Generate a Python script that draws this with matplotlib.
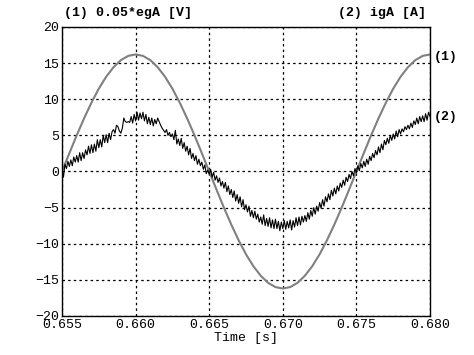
import numpy as np
import matplotlib
matplotlib.use('Agg')
import matplotlib.pyplot as plt

# time axis for the two traces
t_start = 0.655
t_end = 0.680

# (1) 0.05*egA [V], sampled every 0.5 ms
volt = [0.0, 2.53, 5.01, 7.35, 9.52, 11.46, 13.11, 14.43, 15.41, 16.00, 16.2,
        16.00, 15.41, 14.43, 13.11, 11.46, 9.52, 7.35, 5.01, 2.53, 0.0,
        -2.53, -5.01, -7.35, -9.52, -11.46, -13.11, -14.43, -15.41, -16.00, -16.2,
        -16.00, -15.41, -14.43, -13.11, -11.46, -9.52, -7.35, -5.01, -2.53, 0.0,
        2.53, 5.01, 7.35, 9.52, 11.46, 13.11, 14.43, 15.41, 16.00, 16.2]

# (2) igA [A], sampled every 0.1 ms
curr = [0.6, -0.8, 1.0, 0.4, 1.4,
        0.7, 1.6, 0.8, 2.0, 1.3,
        2.2, 1.3, 2.6, 1.5, 2.6,
        1.8, 3.0, 2.3, 3.5, 2.5,
        3.7, 2.6, 3.8, 2.8, 4.4,
        3.3, 4.4, 3.4, 5.0, 4.0,
        5.1, 4.0, 5.3, 4.4, 5.5,
        5.8, 5.3, 6.4, 6.2, 5.6,
        5.3, 6.0, 7.4, 6.9, 6.8,
        6.9, 6.8, 7.6, 6.7, 7.9,
        7.0, 8.2, 7.1, 8.1, 7.3,
        8.2, 7.0, 7.9, 6.6, 7.5,
        6.5, 7.4, 6.3, 7.2, 6.6,
        7.4, 6.9, 6.4, 6.0, 5.7,
        5.4, 5.8, 5.0, 5.4, 4.8,
        5.2, 4.4, 5.7, 3.8, 4.5,
        3.6, 4.6, 3.2, 4.0, 2.8,
        3.5, 2.3, 3.2, 1.8, 2.5,
        1.5, 2.2, 1.0, 1.7, 0.8,
        1.3, 0.3, 0.9, -0.3, 0.2,
        -0.4, 0.3, -0.8, -0.1, -1.2,
        -0.6, -1.5, -0.9, -2.0, -1.4,
        -2.3, -1.5, -2.8, -2.0, -3.2,
        -2.5, -3.6, -2.7, -4.1, -3.2,
        -4.4, -3.5, -4.9, -3.9, -5.3,
        -4.6, -5.6, -4.8, -6.2, -5.4,
        -6.4, -5.5, -6.6, -5.9, -7.0,
        -6.3, -7.3, -6.0, -7.5, -6.5,
        -7.6, -6.4, -7.8, -6.7, -7.9,
        -6.6, -7.9, -6.9, -8.2, -7.0,
        -7.9, -6.8, -8.0, -6.9, -7.8,
        -6.7, -8.1, -6.8, -7.7, -6.4,
        -7.5, -6.3, -7.4, -6.2, -7.0,
        -6.1, -6.9, -5.7, -6.6, -5.4,
        -6.2, -5.0, -5.9, -4.8, -5.5,
        -4.3, -5.1, -3.9, -4.8, -3.5,
        -4.2, -3.1, -3.9, -2.6, -3.4,
        -2.3, -3.1, -2.0, -2.7, -1.6,
        -2.2, -1.2, -1.9, -0.8, -1.4,
        -0.4, -1.0, 0.0, -0.6, 0.4,
        -0.2, 0.8, 0.1, 1.1, 0.5,
        1.4, 0.7, 1.7, 1.0, 2.1,
        1.5, 2.5, 1.9, 2.9, 2.3,
        3.4, 2.6, 3.8, 3.0, 4.3,
        3.7, 4.6, 3.9, 5.0, 4.3,
        5.2, 4.5, 5.6, 4.8, 5.8,
        5.2, 5.9, 5.5, 6.2, 5.8,
        6.4, 5.9, 6.7, 6.1, 7.0,
        6.5, 7.4, 6.6, 7.6, 6.9,
        7.7, 6.9, 8.0, 7.1, 8.2,
        7.6]

xticks = [0.655, 0.660, 0.665, 0.670, 0.675, 0.680]
xtick_labels = ['0.655', '0.660', '0.665', '0.670', '0.675', '0.680']
yticks = [-20, -15, -10, -5, 0, 5, 10, 15, 20]

t_volt = np.linspace(t_start, t_end, len(volt))
t_curr = np.linspace(t_start, t_end, len(curr))

mono = 'Liberation Mono'

fig = plt.figure(figsize=(4.74, 3.55), dpi=100)
ax = fig.add_axes([0.1308, 0.1099, 0.7764, 0.8141])

ax.plot(t_volt, volt, color='#808080', lw=1.5)
ax.plot(t_curr, curr, color='black', lw=0.8)

ax.set_xlim(t_start, t_end)
ax.set_ylim(-20, 20)
ax.set_xticks(xticks)
ax.set_xticklabels(xtick_labels)
ax.set_yticks(yticks)
ax.grid(True, color='black', linestyle=(0, (2, 2.5)), lw=0.9)
ax.tick_params(length=0, labelsize=9.5, pad=2)
for lab in ax.get_xticklabels() + ax.get_yticklabels():
    lab.set_family(mono)
for s in ax.spines.values():
    s.set_linewidth(1.0)

ax.set_xlabel('Time [s]', family=mono, fontsize=9.5, labelpad=1)

fig.text(64 / 474, 1 - 13 / 355, '(1) 0.05*egA [V]', family=mono, fontsize=9.5,
         fontweight='bold', ha='left', va='center')
fig.text(426 / 474, 1 - 13 / 355, '(2) igA [A]', family=mono, fontsize=9.5,
         fontweight='bold', ha='right', va='center')

ax.annotate('(1)', xy=(1, volt[-1]), xycoords=('axes fraction', 'data'),
            xytext=(3, -2), textcoords='offset points', family=mono,
            fontsize=9.5, fontweight='bold', va='center')
ax.annotate('(2)', xy=(1, curr[-1]), xycoords=('axes fraction', 'data'),
            xytext=(3, 0), textcoords='offset points', family=mono,
            fontsize=9.5, fontweight='bold', va='center')

fig.savefig('out.png', dpi=100)
